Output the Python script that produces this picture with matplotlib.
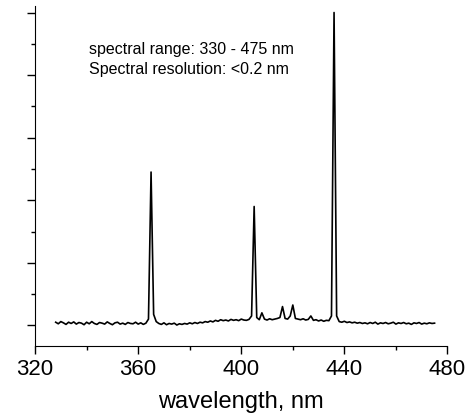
import numpy as np
from matplotlib import pyplot as plt
from matplotlib.ticker import MultipleLocator

plt.rcParams['font.family'] = ['Liberation Sans', 'DejaVu Sans']

wavelength = np.arange(328, 476)
intensity = [
    0.01, 0.005, 0.012, 0.008, 0.003, 0.01, 0.006, 0.011, 0.004, 0.009,
    0.007, 0.002, 0.01, 0.005, 0.012, 0.006, 0.003, 0.009, 0.007, 0.004,
    0.011, 0.006, 0.002, 0.008, 0.01, 0.004, 0.007, 0.003, 0.009, 0.006,
    0.005, 0.01, 0.004, 0.008, 0.003, 0.007, 0.02,
    0.49,
    0.035, 0.012,
    0.006, 0.003, 0.008, 0.002, 0.006, 0.004, 0.007, 0.001, 0.005, 0.003,
    0.006, 0.004, 0.008, 0.005, 0.009, 0.006, 0.01, 0.008, 0.012, 0.01,
    0.014, 0.011, 0.016, 0.013, 0.018, 0.015, 0.017, 0.014, 0.019, 0.016,
    0.018, 0.015, 0.02, 0.017, 0.016, 0.019, 0.03,
    0.38,
    0.025, 0.018,
    0.04,
    0.02, 0.017, 0.021, 0.018, 0.02, 0.022, 0.025,
    0.06,
    0.022, 0.02, 0.03,
    0.065,
    0.022, 0.02, 0.018, 0.021, 0.017, 0.019, 0.03,
    0.016, 0.018, 0.014, 0.017, 0.013, 0.016, 0.015, 0.03,
    1.0,
    0.03, 0.012, 0.01, 0.013, 0.009, 0.011, 0.008, 0.01, 0.007, 0.009, 0.006,
    0.008, 0.005, 0.009, 0.006, 0.01, 0.004, 0.008, 0.006, 0.009, 0.005,
    0.007, 0.01, 0.004, 0.008, 0.006, 0.009, 0.005, 0.007, 0.003, 0.008,
    0.006, 0.009, 0.004, 0.007, 0.005, 0.008, 0.006, 0.007,
]
x_ticks = [320, 360, 400, 440, 480]

fig = plt.figure(figsize=(4.74, 4.19), dpi=100)
ax = fig.add_axes([0.074, 0.175, 0.87, 0.81])
ax.plot(wavelength, intensity, color='black', lw=1.2)

ax.set_xlim(320, 480)
ax.set_ylim(-0.065, 1.02)
ax.set_xticks(x_ticks)
ax.xaxis.set_minor_locator(MultipleLocator(20))
ax.yaxis.set_major_locator(MultipleLocator(0.2))
ax.yaxis.set_minor_locator(MultipleLocator(0.1))
ax.set_yticklabels([])
ax.tick_params(which='major', length=6, width=1, labelsize=16)
ax.tick_params(which='minor', length=3, width=1)
ax.spines['top'].set_visible(False)
ax.spines['right'].set_visible(False)
ax.set_xlabel('wavelength, nm', fontsize=17, labelpad=8)

ax.text(0.13, 0.895, 'spectral range: 330 - 475 nm\nSpectral resolution: <0.2 nm',
        transform=ax.transAxes, fontsize=11.5, va='top', linespacing=1.45)

fig.savefig('out.png')
